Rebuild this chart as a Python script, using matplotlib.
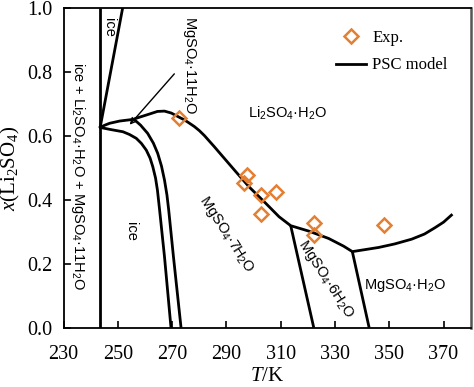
import numpy as np
import matplotlib

matplotlib.use('Agg')

import matplotlib.pyplot as plt

plt.rcParams['font.family'] = 'Liberation Serif'
plt.rcParams['mathtext.fontset'] = 'custom'
plt.rcParams['mathtext.it'] = 'Liberation Serif:italic'
plt.rcParams['mathtext.rm'] = 'Liberation Serif'
plt.rcParams['mathtext.default'] = 'regular'

# phase boundaries (T in K, x = mole fraction Li2SO4)
eut_T = [243.5, 243.5]
eut_x = [0.0, 1.0]

ice_T = [243.5, 251.8]
ice_x = [0.626, 1.0]

ice2_T = [243.5, 247.0, 251.9, 254.3, 256.8, 258.7, 260.5, 261.9, 262.9, 263.9,
          264.6, 265.4, 267.2, 269.6]
ice2_x = [0.626, 0.620, 0.6125, 0.604, 0.592, 0.576, 0.555, 0.530, 0.503, 0.468,
          0.430, 0.368, 0.222, 0.0]

m11_T = [256.0, 258.4, 261.0, 263.1, 264.7, 266.1, 267.2, 268.1, 268.75, 270.5, 273.3]
m11_x = [0.651, 0.633, 0.6075, 0.577, 0.545, 0.505, 0.4615, 0.415, 0.368, 0.222, 0.0]

li_T = [243.5, 245.2, 247.0, 250.7, 255.5, 258.0, 261.7, 264.6, 267.2, 269.7, 272.7,
        274.5, 276.3, 278.2, 280.0, 281.9, 283.7, 285.5, 287.4, 293.5, 298.4, 304.5,
        309.4, 313.7, 320.4, 327.7, 333.2, 336.4, 346.1, 352.0, 358.3, 363.0, 366.9,
        370.0, 372.9]
li_x = [0.626, 0.633, 0.639, 0.646, 0.651, 0.658, 0.668, 0.676, 0.677, 0.671, 0.6575,
        0.6497, 0.6397, 0.6288, 0.6163, 0.6006, 0.5834, 0.5663, 0.5475, 0.4875, 0.440,
        0.389, 0.347, 0.319, 0.302, 0.279, 0.255, 0.238, 0.251, 0.262, 0.277, 0.293,
        0.313, 0.330, 0.352]

m7_T = [313.7, 322.2]
m7_x = [0.319, 0.0]

m6_T = [336.4, 342.6]
m6_x = [0.238, 0.0]

# experimental points
exp_T = [272.7, 297.7, 296.5, 302.7, 308.2, 302.7, 322.2, 322.2, 347.9]
exp_x = [0.657, 0.477, 0.451, 0.415, 0.425, 0.357, 0.326, 0.290, 0.321]

fig = plt.figure(figsize=(4.74, 3.87), dpi=100)
ax = fig.add_axes([0.134, 0.153, 0.859, 0.827])

lw = 2.0
for T, x in [(eut_T, eut_x), (ice_T, ice_x), (ice2_T, ice2_x), (m11_T, m11_x),
             (m7_T, m7_x), (m6_T, m6_x)]:
    ax.plot(T, x, color='black', lw=lw, solid_capstyle='butt', solid_joinstyle='round')
ax.plot(li_T, li_x, color='black', lw=lw, solid_joinstyle='round', label='PSC model')

ax.plot(exp_T, exp_x, linestyle='none', marker='D', markersize=7,
        markerfacecolor='none', markeredgecolor='#E57F32', markeredgewidth=1.8,
        label='Exp.')

ax.set_xlim(230, 380)
ax.set_ylim(0, 1.0)
ax.set_xticks(np.arange(230, 380, 20))
ax.set_yticks(np.arange(0, 1.01, 0.2))
ax.yaxis.set_major_formatter(matplotlib.ticker.FormatStrFormatter('%.1f'))
ax.tick_params(direction='in', length=5, width=1.2, labelsize=14.5, top=False, right=False)
ax.tick_params(axis='x', pad=12.5)
ax.tick_params(axis='y', pad=8)
for s in ['left', 'bottom', 'top']:
    ax.spines[s].set_linewidth(1.3)
ax.spines['right'].set_linewidth(1.8)
ax.spines['right'].set_color('#555555')

ax.set_xlabel('$\\mathit{T}$/K', fontsize=15, labelpad=2)
ax.set_ylabel('$\\mathit{x}$(Li$_2$SO$_4$)', fontsize=15, labelpad=4)

# legend (Exp. first)
h, l = ax.get_legend_handles_labels()
ax.legend(h[::-1], l[::-1], loc='upper left', bbox_to_anchor=(0.668, 0.93),
          frameon=False, fontsize=12, handlelength=1.8, handletextpad=0.4,
          labelspacing=0.68, borderpad=0, borderaxespad=0)

sans = dict(family='Liberation Sans', fontsize=10.5, ha='center', va='center')
ax.text(246.9, 0.94, 'ice', rotation=-90, **sans)
ax.text(235.3, 0.475, 'ice + Li$_2$SO$_4$·H$_2$O + MgSO$_4$·11H$_2$O', rotation=-90, **sans)
ax.text(276.4, 0.82, 'MgSO$_4$·11H$_2$O', rotation=-90, **sans)
ax.annotate('', xy=(253.7, 0.628), xytext=(271.5, 0.80),
            arrowprops=dict(arrowstyle='->', lw=1.0, color='black'))
ax.text(312.4, 0.67, 'Li$_2$SO$_4$·H$_2$O', **sans)
ax.text(254.9, 0.30, 'ice', rotation=-90, **sans)
ax.text(290.0, 0.29, 'MgSO$_4$·7H$_2$O', rotation=-57, rotation_mode='anchor', **sans)
ax.text(326.5, 0.152, 'MgSO$_4$·6H$_2$O', rotation=-57, rotation_mode='anchor', **sans)
ax.text(355.9, 0.133, 'MgSO$_4$·H$_2$O', **sans)

plt.savefig('out.png', dpi=100)
